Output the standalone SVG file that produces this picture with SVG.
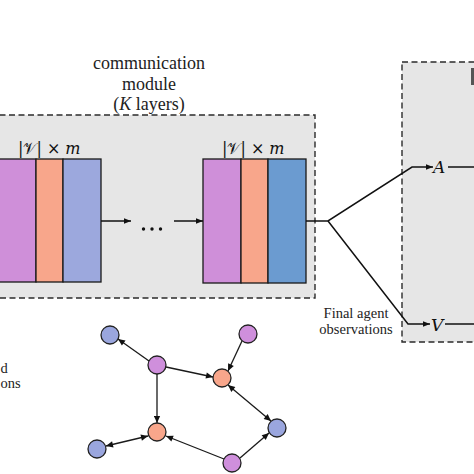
<svg xmlns="http://www.w3.org/2000/svg" width="474" height="474" viewBox="0 0 474 474">
<defs>
<style>
.box{fill:#e6e6e6;stroke:#2b2b2b;stroke-width:1.4;stroke-dasharray:6,3.5}
.seg{stroke:#1a1a1a;stroke-width:1.3}
.p{fill:#cf8fd9}.o{fill:#f8a68b}.b1{fill:#9ca8dd}.b2{fill:#6b9bd0}
.ln{fill:none;stroke:#111;stroke-width:1.5}
.ge{fill:none;stroke:#1a1a1a;stroke-width:1.3}
.node{stroke:#222;stroke-width:1.3}
.nb{fill:#9aa6de}.np{fill:#cf8fdc}.no{fill:#f8a68b}
.t{font-family:"Liberation Serif","DejaVu Serif",serif;fill:#222}
.m{font-family:"DejaVu Serif","Liberation Serif",serif;font-style:italic;fill:#111}
</style>
<marker id="ah" viewBox="0 0 10 10" refX="10" refY="5" markerWidth="10" markerHeight="7" markerUnits="userSpaceOnUse" orient="auto-start-reverse">
<path d="M0,1 L10,5 L0,9 z" fill="#111"/>
</marker>
<marker id="gh" viewBox="0 0 10 10" refX="10" refY="5" markerWidth="8" markerHeight="7" markerUnits="userSpaceOnUse" orient="auto-start-reverse">
<path d="M0,0.5 L10,5 L0,9.5 z" fill="#111"/>
</marker>
</defs>
<rect width="474" height="474" fill="#fff"/>

<g id="comm-module">
<rect class="box" x="-10" y="115" width="325" height="183"/>
<text class="t" font-size="18" text-anchor="middle" x="149" y="69">communication</text>
<text class="t" font-size="18" text-anchor="middle" x="149" y="90">module</text>
<text class="t" font-size="18" text-anchor="middle" x="149" y="110">(<tspan font-style="italic">K</tspan>  layers)</text>
</g>

<g id="output-box">
<rect class="box" x="402" y="62" width="90" height="280"/>
<rect x="471" y="68" width="4" height="17" fill="#555"/>
</g>

<g id="layer-1">
<rect class="p seg" x="-5" y="159" width="41" height="123"/>
<rect class="o seg" x="36" y="159" width="27" height="123"/>
<rect class="b1 seg" x="63" y="159" width="38" height="123"/>
<text class="m" font-size="16" x="18" y="154"><tspan font-style="normal">|𝒱|</tspan> <tspan font-style="normal">×</tspan> m</text>
</g>

<g id="layer-K">
<rect class="p seg" x="203" y="159" width="38" height="124"/>
<rect class="o seg" x="241" y="159" width="27" height="124"/>
<rect class="b2 seg" x="268" y="159" width="38" height="124"/>
<text class="m" font-size="16" x="222" y="154"><tspan font-style="normal">|𝒱|</tspan> <tspan font-style="normal">×</tspan> m</text>
</g>

<g id="dots">
<circle cx="143.5" cy="229" r="1.7" fill="#111"/>
<circle cx="152" cy="229" r="1.7" fill="#111"/>
<circle cx="160.5" cy="229" r="1.7" fill="#111"/>
</g>

<g id="out-A"><text class="m" font-size="17" x="433" y="173">A</text></g>
<g id="out-V"><text class="m" font-size="17" x="431" y="331">V</text></g>

<g id="final-label">
<text class="t" font-size="14.5" text-anchor="middle" x="356" y="318">Final agent</text>
<text class="t" font-size="14.5" text-anchor="middle" x="356" y="334">observations</text>
</g>

<g id="left-label">
<text class="t" font-size="14.5" x="0.5" y="373">d</text>
<text class="t" font-size="14.5" x="0.5" y="388">ons</text>
</g>

<g id="connectors">
<line class="ln" x1="101" y1="221" x2="131" y2="221" marker-end="url(#ah)"/>
<line class="ln" x1="174" y1="221" x2="203" y2="221" marker-end="url(#ah)"/>
<polyline class="ln" points="306,221 328,221 412,167 433,167" marker-end="url(#ah)"/>
<polyline class="ln" points="328,221 408,324 430,324" marker-end="url(#ah)"/>
<line class="ln" x1="448" y1="167" x2="476" y2="167"/>
<line class="ln" x1="445" y1="324" x2="476" y2="324"/>

<line class="ge" x1="149" y1="361" x2="118" y2="339" marker-end="url(#gh)"/>
<line class="ge" x1="166" y1="367" x2="213" y2="377" marker-end="url(#gh)"/>
<line class="ge" x1="157" y1="374" x2="157" y2="423" marker-end="url(#gh)"/>
<line class="ge" x1="242" y1="341" x2="228" y2="371" marker-end="url(#gh)"/>
<line class="ge" x1="228" y1="385" x2="271" y2="421" marker-start="url(#gh)" marker-end="url(#gh)"/>
<line class="ge" x1="148" y1="436" x2="106" y2="446" marker-start="url(#gh)" marker-end="url(#gh)"/>
<line class="ge" x1="224" y1="459" x2="166" y2="436" marker-end="url(#gh)"/>
<line class="ge" x1="240" y1="458" x2="269" y2="433" marker-end="url(#gh)"/>
</g>

<g id="n1"><circle class="node nb" cx="110" cy="335" r="9"/></g>
<g id="n2"><circle class="node np" cx="157" cy="365" r="9"/></g>
<g id="n3"><circle class="node no" cx="222" cy="378" r="9"/></g>
<g id="n4"><circle class="node np" cx="248" cy="334" r="9"/></g>
<g id="n5"><circle class="node no" cx="157" cy="432" r="9"/></g>
<g id="n6"><circle class="node nb" cx="97" cy="449" r="9"/></g>
<g id="n7"><circle class="node nb" cx="277" cy="428" r="9"/></g>
<g id="n8"><circle class="node np" cx="232" cy="463" r="9"/></g>
</svg>
